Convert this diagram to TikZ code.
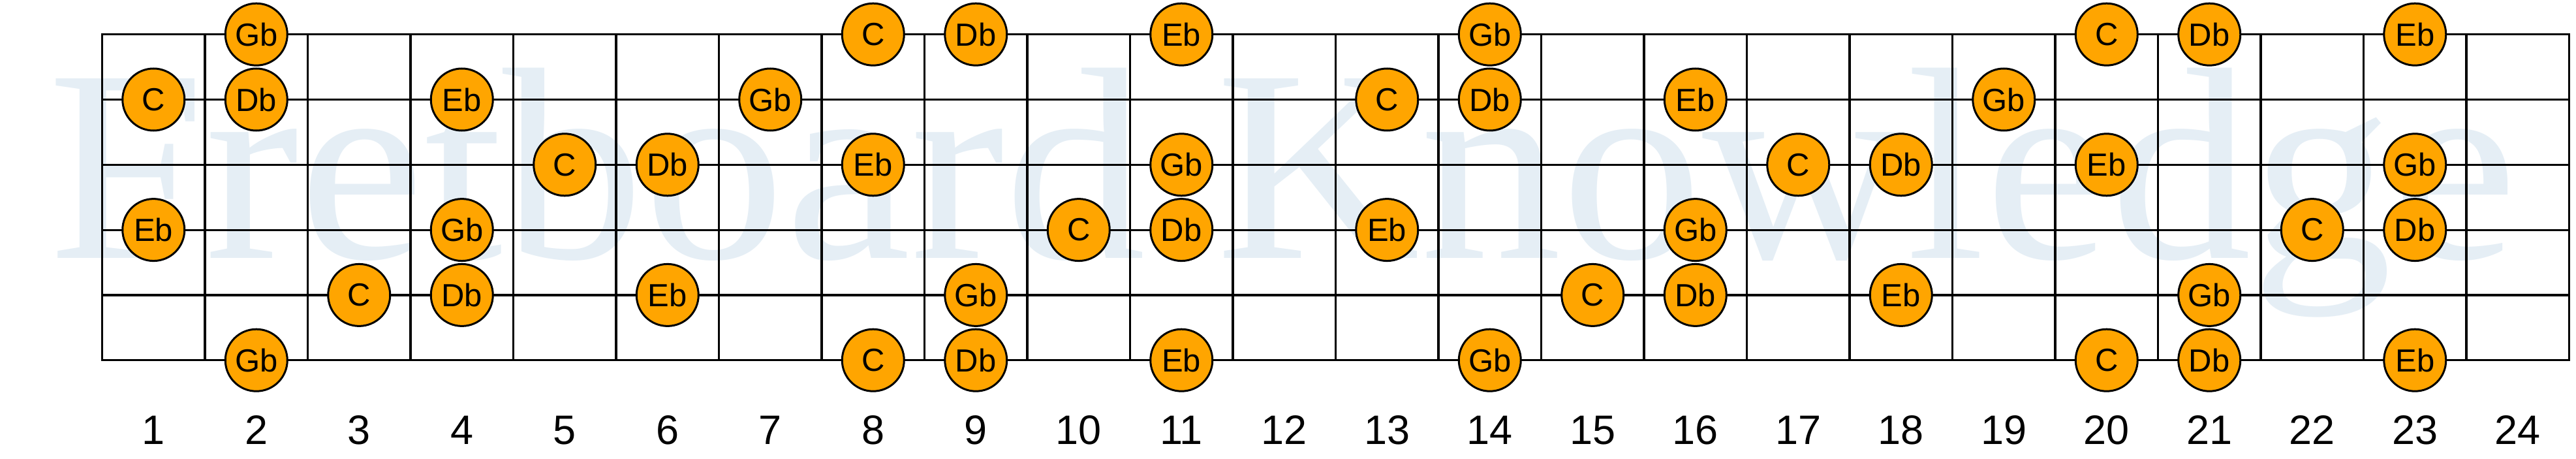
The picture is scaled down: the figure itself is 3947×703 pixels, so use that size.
\documentclass[tikz,border=0pt]{standalone}
\usepackage{fontspec}
\setmainfont{Liberation Sans}
\newfontfamily\wmfont{Liberation Serif}
\usetikzlibrary{shapes.geometric}
\definecolor{dotorange}{RGB}{255,165,0}
\definecolor{wmblue}{RGB}{229,238,245}
\tikzset{
  notedot/.style={circle, draw=black, line width=3pt, fill=dotorange,
    minimum size=95pt, inner sep=0pt, font=\fontsize{49}{49}\selectfont},
  fretnum/.style={anchor=base, inner sep=0pt, font=\fontsize{63}{63}\selectfont}
}
\begin{document}
\begin{tikzpicture}[x=1pt, y=-1pt, line width=3.2pt]
  \useasboundingbox (0,0) rectangle (3947,703);

  \newcommand\FretW{157.5}
  \newcommand\StrH{99.8}
  \newcommand\XL{156.5}
  \newcommand\YT{52.7}

  %% watermark
  \node[anchor=base west, xscale=1.03, inner sep=0pt, text=wmblue,
    font=\wmfont\fontsize{420}{420}\selectfont] (mark) at (72, 395.5) {Fretboard Knowledge};

  %% strings and frets
  \foreach \st in {0,...,5}
    \draw[line cap=rect] (\XL, \YT+\st*\StrH) -- (\XL+24*\FretW, \YT+\st*\StrH);
  \foreach \fr in {0,...,24}
    \draw[line cap=rect] (\XL+\fr*\FretW, \YT) -- (\XL+\fr*\FretW, \YT+5*\StrH);

  %% fret numbers
  \foreach \fr in {1,...,24}
    \node[fretnum] (num\fr) at (\XL+\fr*\FretW-0.5*\FretW, 680) {\fr};

  %% notes, one line per string (top to bottom)
  \foreach \fr/\nt in {2/Gb, 8/C, 9/Db, 11/Eb, 14/Gb, 20/C, 21/Db, 23/Eb}
    \node[notedot] (s0f\fr) at (\XL+\fr*\FretW-0.5*\FretW, \YT) {\nt};
  \foreach \fr/\nt in {1/C, 2/Db, 4/Eb, 7/Gb, 13/C, 14/Db, 16/Eb, 19/Gb}
    \node[notedot] (s1f\fr) at (\XL+\fr*\FretW-0.5*\FretW, \YT+\StrH) {\nt};
  \foreach \fr/\nt in {5/C, 6/Db, 8/Eb, 11/Gb, 17/C, 18/Db, 20/Eb, 23/Gb}
    \node[notedot] (s2f\fr) at (\XL+\fr*\FretW-0.5*\FretW, \YT+2*\StrH) {\nt};
  \foreach \fr/\nt in {1/Eb, 4/Gb, 10/C, 11/Db, 13/Eb, 16/Gb, 22/C, 23/Db}
    \node[notedot] (s3f\fr) at (\XL+\fr*\FretW-0.5*\FretW, \YT+3*\StrH) {\nt};
  \foreach \fr/\nt in {3/C, 4/Db, 6/Eb, 9/Gb, 15/C, 16/Db, 18/Eb, 21/Gb}
    \node[notedot] (s4f\fr) at (\XL+\fr*\FretW-0.5*\FretW, \YT+4*\StrH) {\nt};
  \foreach \fr/\nt in {2/Gb, 8/C, 9/Db, 11/Eb, 14/Gb, 20/C, 21/Db, 23/Eb}
    \node[notedot] (s5f\fr) at (\XL+\fr*\FretW-0.5*\FretW, \YT+5*\StrH) {\nt};
\end{tikzpicture}
\end{document}
